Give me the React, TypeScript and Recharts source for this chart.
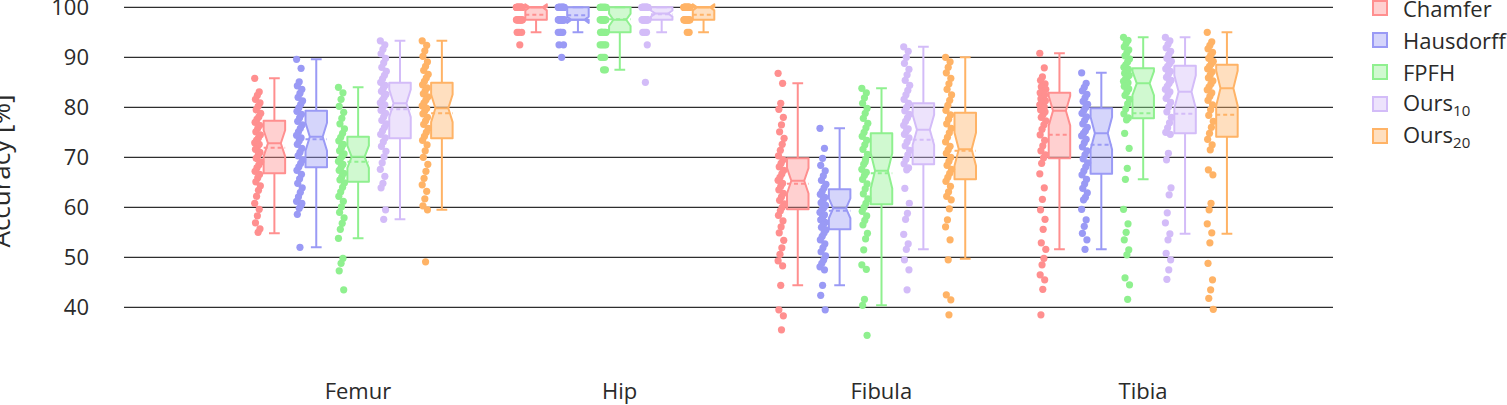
import React from 'react';
import { ComposedChart, Bar, Scatter, XAxis, YAxis, CartesianGrid } from 'recharts';

const categories = ['Femur', 'Hip', 'Fibula', 'Tibia'];
const methods = ['Chamfer', 'Hausdorff', 'FPFH', 'Ours10', 'Ours20'];
const colors = ['#ff8f8f', '#9a9af5', '#8ff08f', '#d3bcf8', '#ffb366'];
const yTicks = [40, 50, 60, 70, 80, 90, 100];

// box statistics, one row per category, one column per method
const lowerWhisker = [
  [54.8, 52.0, 53.8, 57.6, 59.5],
  [95, 95, 87.5, 95, 95],
  [44.4, 44.4, 40.4, 51.6, 49.7],
  [51.6, 51.6, 65.6, 54.7, 54.7],
];
const q1 = [
  [66.8, 68.0, 65.1, 73.8, 73.8],
  [97.5, 97.5, 95, 97.5, 97.5],
  [59.6, 55.6, 60.6, 68.6, 65.6],
  [69.8, 66.7, 77.8, 74.8, 74.1],
];
const median = [
  [72.8, 74.1, 70.1, 80.8, 79.8],
  [100, 97.5, 97.5, 98.75, 100],
  [65.3, 59.8, 67.3, 75.5, 71.6],
  [79.3, 74.8, 84.8, 83.1, 83.8],
];
const q3 = [
  [77.3, 79.3, 74.1, 84.9, 84.9],
  [100, 100, 100, 100, 100],
  [69.8, 63.6, 74.8, 80.8, 78.9],
  [82.9, 79.8, 87.8, 88.3, 88.5],
];
const upperWhisker = [
  [85.8, 89.6, 84.0, 93.3, 93.3],
  [100, 100, 100, 100, 100],
  [84.8, 75.8, 83.8, 92.1, 90.0],
  [90.8, 86.9, 94.0, 94.0, 95.0],
];
const meanValue = [
  [71.9, 73.6, 69.1, 79.6, 78.8],
  [98.5, 98.4, 97.6, 98.6, 98.5],
  [64.7, 59.3, 66.8, 73.5, 71.3],
  [74.5, 72.5, 78.8, 78.7, 78.5],
];

// per-sample accuracies: [Femur, Hip, Fibula, Tibia]
const chamferPts = [
  [85.8, 83.1, 82.4, 81.6, 80.9, 80.2, 79.5, 78.8, 78.1, 77.6, 77.0, 76.4, 75.8, 75.1, 74.5, 73.9, 73.4, 72.9, 72.6, 72.1, 71.6, 71.0, 70.4, 69.8, 69.1, 68.5, 67.9, 67.2, 66.6, 65.9, 65.1, 64.3, 63.4, 62.2, 60.8, 59.6, 58.3, 56.9, 55.7, 55.0],
  [100, 100, 100, 100, 100, 100, 100, 100, 100, 100, 100, 100, 100, 100, 100, 100, 100, 100, 100, 100, 100, 100, 100, 100, 97.5, 97.5, 97.5, 97.5, 97.5, 97.5, 97.5, 97.5, 97.5, 97.5, 97.5, 97.5, 95, 95, 95, 92.5],
  [86.8, 84.8, 80.8, 79.6, 78.0, 76.5, 75.1, 73.8, 72.6, 71.4, 70.3, 69.5, 68.8, 68.1, 67.4, 66.7, 66.0, 65.4, 64.8, 64.2, 63.5, 62.8, 62.1, 61.4, 60.7, 60.0, 59.3, 58.4, 57.3, 56.1, 54.9, 53.4, 51.9, 50.6, 49.3, 48.3, 44.4, 39.5, 38.3, 35.5],
  [90.8, 87.9, 86.1, 85.4, 84.7, 84.4, 84.1, 83.6, 83.2, 83.0, 82.9, 82.5, 82.1, 81.7, 81.3, 81.0, 80.9, 80.5, 80.1, 79.8, 79.5, 79.1, 78.6, 78.0, 77.3, 76.5, 75.6, 74.5, 73.4, 72.3, 71.3, 70.5, 69.9, 68.8, 66.7, 63.9, 61.6, 59.5, 57.6, 55.6, 52.9, 51.6, 49.8, 48.5, 46.5, 45.5, 43.6, 38.5],
];
const hausdorffPts = [
  [89.6, 87.8, 85.1, 84.3, 83.6, 82.8, 82.0, 81.3, 80.6, 79.9, 79.2, 78.6, 77.9, 77.2, 76.5, 75.8, 75.1, 74.4, 73.9, 73.3, 72.6, 71.8, 71.0, 70.3, 69.5, 68.8, 68.1, 67.4, 66.6, 65.7, 64.8, 63.9, 63.0, 62.1, 61.2, 60.4, 59.8, 58.6, 60.8, 52.0],
  [100, 100, 100, 100, 100, 100, 100, 100, 100, 100, 100, 100, 100, 100, 100, 100, 97.5, 97.5, 97.5, 97.5, 97.5, 97.5, 97.5, 97.5, 97.5, 97.5, 97.5, 97.5, 97.5, 97.5, 97.5, 97.5, 97.5, 95, 95, 95, 95, 92.5, 92.5, 90],
  [75.8, 71.8, 69.8, 68.4, 67.3, 66.3, 65.4, 64.6, 63.9, 63.2, 62.6, 62.0, 61.4, 60.9, 60.4, 59.9, 59.5, 59.0, 58.5, 58.0, 57.5, 57.0, 56.5, 56.0, 55.5, 54.9, 54.2, 53.5, 52.7, 51.9, 51.1, 50.3, 49.5, 48.8, 48.1, 47.5, 44.4, 42.4, 39.5, 60.7],
  [86.9, 84.8, 84.0, 83.3, 82.6, 81.9, 81.2, 80.6, 80.0, 79.4, 78.8, 78.1, 77.4, 76.7, 76.0, 75.3, 74.8, 74.3, 73.6, 72.9, 72.1, 71.3, 70.5, 69.7, 68.9, 68.1, 67.3, 66.5, 65.6, 64.7, 63.8, 62.9, 62.0, 61.5, 59.6, 57.5, 56.2, 54.8, 53.5, 51.6],
];
const fpfhPts = [
  [84.0, 82.9, 81.6, 80.2, 79.0, 77.8, 76.7, 75.7, 74.8, 74.0, 73.3, 72.6, 71.9, 71.3, 70.7, 70.2, 69.7, 69.2, 68.6, 68.0, 67.4, 66.8, 66.1, 65.5, 64.9, 64.0, 63.1, 62.2, 61.2, 60.1, 59.0, 57.9, 56.8, 55.6, 53.8, 49.8, 48.8, 47.3, 43.5, 72.3],
  [100, 100, 100, 100, 100, 100, 100, 100, 100, 100, 100, 97.5, 97.5, 97.5, 97.5, 97.5, 97.5, 97.5, 97.5, 97.5, 97.5, 97.5, 97.5, 95, 95, 95, 95, 95, 95, 95, 95, 92.5, 92.5, 92.5, 92.5, 90, 90, 90, 87.5, 87.5],
  [83.8, 82.9, 81.9, 80.8, 79.8, 78.8, 77.8, 76.8, 75.9, 75.0, 74.2, 73.4, 72.5, 71.6, 70.6, 69.6, 68.6, 67.6, 67.0, 66.4, 65.6, 64.7, 63.7, 62.7, 61.7, 60.8, 60.0, 59.2, 58.3, 57.4, 56.5, 54.8, 53.7, 51.5, 48.5, 47.6, 41.6, 40.4, 34.4, 69.1],
  [94.0, 93.4, 92.8, 92.1, 91.5, 90.9, 90.3, 89.7, 89.1, 88.5, 88.0, 87.6, 87.2, 86.8, 86.4, 86.0, 85.6, 85.2, 84.9, 84.6, 84.2, 83.7, 83.1, 82.4, 81.6, 80.7, 79.7, 78.7, 77.9, 77.5, 74.8, 71.8, 67.8, 65.6, 59.6, 56.7, 55.0, 53.5, 51.5, 50.5, 45.9, 44.5, 41.6],
];
const ours10Pts = [
  [93.3, 92.5, 91.6, 90.7, 89.8, 88.9, 88.0, 87.2, 86.4, 85.7, 85.0, 84.4, 83.8, 83.2, 82.6, 82.0, 81.4, 80.9, 80.5, 80.0, 79.4, 78.8, 78.1, 77.4, 76.7, 76.0, 75.3, 74.6, 73.9, 73.1, 72.2, 71.2, 70.1, 68.9, 67.6, 66.2, 64.8, 63.9, 59.5, 57.6],
  [100, 100, 100, 100, 100, 100, 100, 100, 100, 100, 100, 100, 100, 100, 100, 100, 100, 100, 100, 100, 97.5, 97.5, 97.5, 97.5, 97.5, 97.5, 97.5, 97.5, 97.5, 97.5, 97.5, 97.5, 97.5, 97.5, 97.5, 95, 95, 95, 92.5, 85],
  [92.1, 91.2, 90.0, 88.8, 87.6, 86.5, 85.4, 84.4, 83.4, 82.5, 81.6, 80.8, 80.0, 79.3, 78.6, 77.9, 77.2, 76.4, 75.7, 75.2, 74.6, 73.9, 73.1, 72.3, 71.4, 70.5, 69.6, 68.7, 67.9, 67.5, 63.8, 60.8, 58.8, 57.6, 54.6, 52.7, 51.6, 49.5, 47.5, 43.5],
  [94.0, 93.3, 92.6, 91.9, 91.2, 90.5, 89.8, 89.2, 88.7, 88.2, 87.7, 87.2, 86.6, 86.0, 85.4, 84.8, 84.2, 83.6, 83.1, 82.5, 81.8, 81.0, 80.1, 79.1, 78.0, 76.9, 75.9, 75.0, 74.6, 70.8, 69.5, 63.9, 62.5, 58.9, 56.9, 54.7, 53.5, 50.8, 49.5, 47.5, 45.6],
];
const ours20Pts = [
  [93.3, 92.4, 91.3, 90.2, 89.1, 88.2, 87.4, 86.6, 85.9, 85.2, 84.5, 83.9, 83.3, 82.7, 82.1, 81.5, 80.9, 80.3, 79.8, 79.3, 78.7, 78.0, 77.3, 76.6, 75.8, 75.0, 74.2, 73.4, 72.5, 71.3, 70.0, 68.6, 67.2, 65.8, 64.5, 63.2, 61.7, 60.3, 59.5, 49.1],
  [100, 100, 100, 100, 100, 100, 100, 100, 100, 100, 100, 100, 100, 100, 100, 100, 100, 100, 100, 100, 100, 100, 100, 100, 97.5, 97.5, 97.5, 97.5, 97.5, 97.5, 97.5, 97.5, 97.5, 97.5, 97.5, 97.5, 97.5, 97.5, 95, 95],
  [90.0, 89.1, 88.0, 86.9, 85.8, 84.7, 83.6, 82.5, 81.4, 80.4, 79.4, 78.5, 77.6, 76.7, 75.8, 74.9, 74.0, 73.1, 72.2, 71.5, 70.8, 70.0, 69.2, 68.4, 67.6, 66.8, 66.0, 65.2, 64.2, 63.1, 62.2, 61.5, 59.7, 57.5, 56.1, 53.5, 49.5, 42.5, 41.5, 38.5],
  [95.0, 93.1, 92.4, 91.7, 91.0, 90.4, 89.8, 89.2, 88.7, 88.2, 87.7, 87.1, 86.5, 85.9, 85.3, 84.7, 84.1, 83.5, 82.9, 82.2, 81.4, 80.5, 79.5, 78.4, 77.2, 76.0, 74.8, 73.6, 72.5, 71.5, 67.5, 66.5, 60.8, 59.5, 56.7, 54.9, 52.9, 48.8, 45.5, 43.5, 41.8, 39.6],
];
const methodPoints = [chamferPts, hausdorffPts, fpfhPts, ours10Pts, ours20Pts];

const BOX_STEP = 0.16; // distance between boxes of a group, in category units
const PTS_SHIFT = -0.063; // point column sits left of its box
const BOX_W = 21.5;

const boxRows = categories.flatMap((cat, c) =>
  methods.map((m, k) => ({
    x: c + (k - 2) * BOX_STEP,
    range: [lowerWhisker[c][k], upperWhisker[c][k]],
    q1: q1[c][k],
    med: median[c][k],
    q3: q3[c][k],
    mean: meanValue[c][k],
    n: methodPoints[k][c].length,
    color: colors[k],
  }))
);

const jitterPx = (i: number) => (((i * 29) % 17) / 16 - 0.5) * 6;

const pointSeries = methods.map((m, k) =>
  categories.flatMap((cat, c) =>
    methodPoints[k][c].map((v, i) => ({
      x: c + (k - 2) * BOX_STEP + PTS_SHIFT,
      y: v,
      j: jitterPx(i),
    }))
  )
);

const BoxShape = (props: any) => {
  const { x, y, width, height, payload } = props;
  if (!payload) return null;
  const [lo, hi] = payload.range;
  const yHi = Math.min(y, y + height);
  const yLo = Math.max(y, y + height);
  const toY = (v: number) => yLo + ((yHi - yLo) * (v - lo)) / (hi - lo);
  const cx = x + width / 2;
  const L = cx - BOX_W / 2;
  const R = cx + BOX_W / 2;
  const ind = BOX_W * 0.2;
  const ns = (1.57 * (payload.q3 - payload.q1)) / Math.sqrt(payload.n);
  const c = payload.color;
  const path = [
    `M${L},${toY(payload.q1)}`,
    `L${L},${toY(payload.med - ns)}`,
    `L${L + ind},${toY(payload.med)}`,
    `L${L},${toY(payload.med + ns)}`,
    `L${L},${toY(payload.q3)}`,
    `L${R},${toY(payload.q3)}`,
    `L${R},${toY(payload.med + ns)}`,
    `L${R - ind},${toY(payload.med)}`,
    `L${R},${toY(payload.med - ns)}`,
    `L${R},${toY(payload.q1)}`,
    'Z',
  ].join(' ');
  const capHalf = BOX_W / 4;
  return (
    <g>
      <line x1={cx} x2={cx} y1={toY(payload.q3)} y2={toY(hi)} stroke={c} strokeWidth={2} />
      <line x1={cx} x2={cx} y1={toY(payload.q1)} y2={toY(lo)} stroke={c} strokeWidth={2} />
      <line x1={cx - capHalf} x2={cx + capHalf} y1={toY(hi)} y2={toY(hi)} stroke={c} strokeWidth={2} />
      <line x1={cx - capHalf} x2={cx + capHalf} y1={toY(lo)} y2={toY(lo)} stroke={c} strokeWidth={2} />
      <path d={path} fill={c} fillOpacity={0.42} stroke={c} strokeWidth={2} strokeLinejoin="round" />
      <line x1={L + ind} x2={R - ind} y1={toY(payload.med)} y2={toY(payload.med)} stroke={c} strokeWidth={2} />
      <line x1={L} x2={R} y1={toY(payload.mean)} y2={toY(payload.mean)} stroke={c} strokeWidth={2} strokeDasharray="4 3" />
    </g>
  );
};

const YTitle = () => (
  <text
    x={10}
    y={171}
    transform="rotate(-90 10 171)"
    textAnchor="middle"
    fontSize={26}
    fontFamily="'Open Sans', sans-serif"
    fill="#2a2a2a"
  >
    Accuracy [%]
  </text>
);

const legendLabel = (m: string) => {
  if (m.startsWith('Ours')) {
    return (
      <span>
        Ours
        <span style={{ fontSize: 15, position: 'relative', top: 5 }}>{m.slice(4)}</span>
      </span>
    );
  }
  return m;
};

const font = "'Open Sans', sans-serif";

export default function App() {
  return (
    <div style={{ position: 'absolute', left: 0, top: 0, width: 1507, height: 405, background: '#fff', overflow: 'hidden' }}>
      <ComposedChart width={1507} height={405} data={boxRows} margin={{ top: 1.3, right: 174, bottom: 0, left: 0 }}>
        <CartesianGrid horizontal vertical={false} syncWithTicks stroke="#2e2e2e" strokeWidth={1.3} />
        <XAxis
          type="number"
          dataKey="x"
          domain={[-0.894, 3.726]}
          allowDataOverflow
          ticks={[0, 1, 2, 3]}
          interval={0}
          tickFormatter={(v: number) => categories[Math.round(v)]}
          axisLine={false}
          tickLine={false}
          tickSize={0}
          tickMargin={26}
          height={47.7}
          tick={{ fontSize: 22, fill: '#2a2a2a', fontFamily: font }}
        />
        <YAxis
          type="number"
          domain={[30, 101.2]}
          allowDataOverflow
          ticks={yTicks}
          interval={0}
          axisLine={false}
          tickLine={false}
          tickSize={0}
          tickMargin={35}
          width={124}
          tick={{ fontSize: 22, fill: '#2a2a2a', fontFamily: font }}
          label={<YTitle />}
        />
        <Bar dataKey="range" barSize={BOX_W} shape={<BoxShape />} isAnimationActive={false} />
        {methods.map((m, k) => (
          <Scatter
            key={m}
            name={m}
            data={pointSeries[k]}
            dataKey="y"
            isAnimationActive={false}
            shape={(p: any) => <circle cx={p.cx + (p.payload?.j ?? 0)} cy={p.cy} r={3.6} fill={colors[k]} />}
          />
        ))}
      </ComposedChart>
      {methods.map((m, k) => (
        <div
          key={m}
          style={{
            position: 'absolute',
            left: 1372,
            top: 7.7 + 32 * k - 16,
            height: 32,
            display: 'flex',
            alignItems: 'center',
            fontFamily: font,
            fontSize: 22,
            lineHeight: '32px',
            color: '#2a2a2a',
            whiteSpace: 'nowrap',
          }}
        >
          <div
            style={{
              width: 12,
              height: 12,
              border: `2px solid ${colors[k]}`,
              background: colors[k] + '6b',
              marginRight: 15,
              boxSizing: 'content-box',
            }}
          />
          {legendLabel(m)}
        </div>
      ))}
    </div>
  );
}
